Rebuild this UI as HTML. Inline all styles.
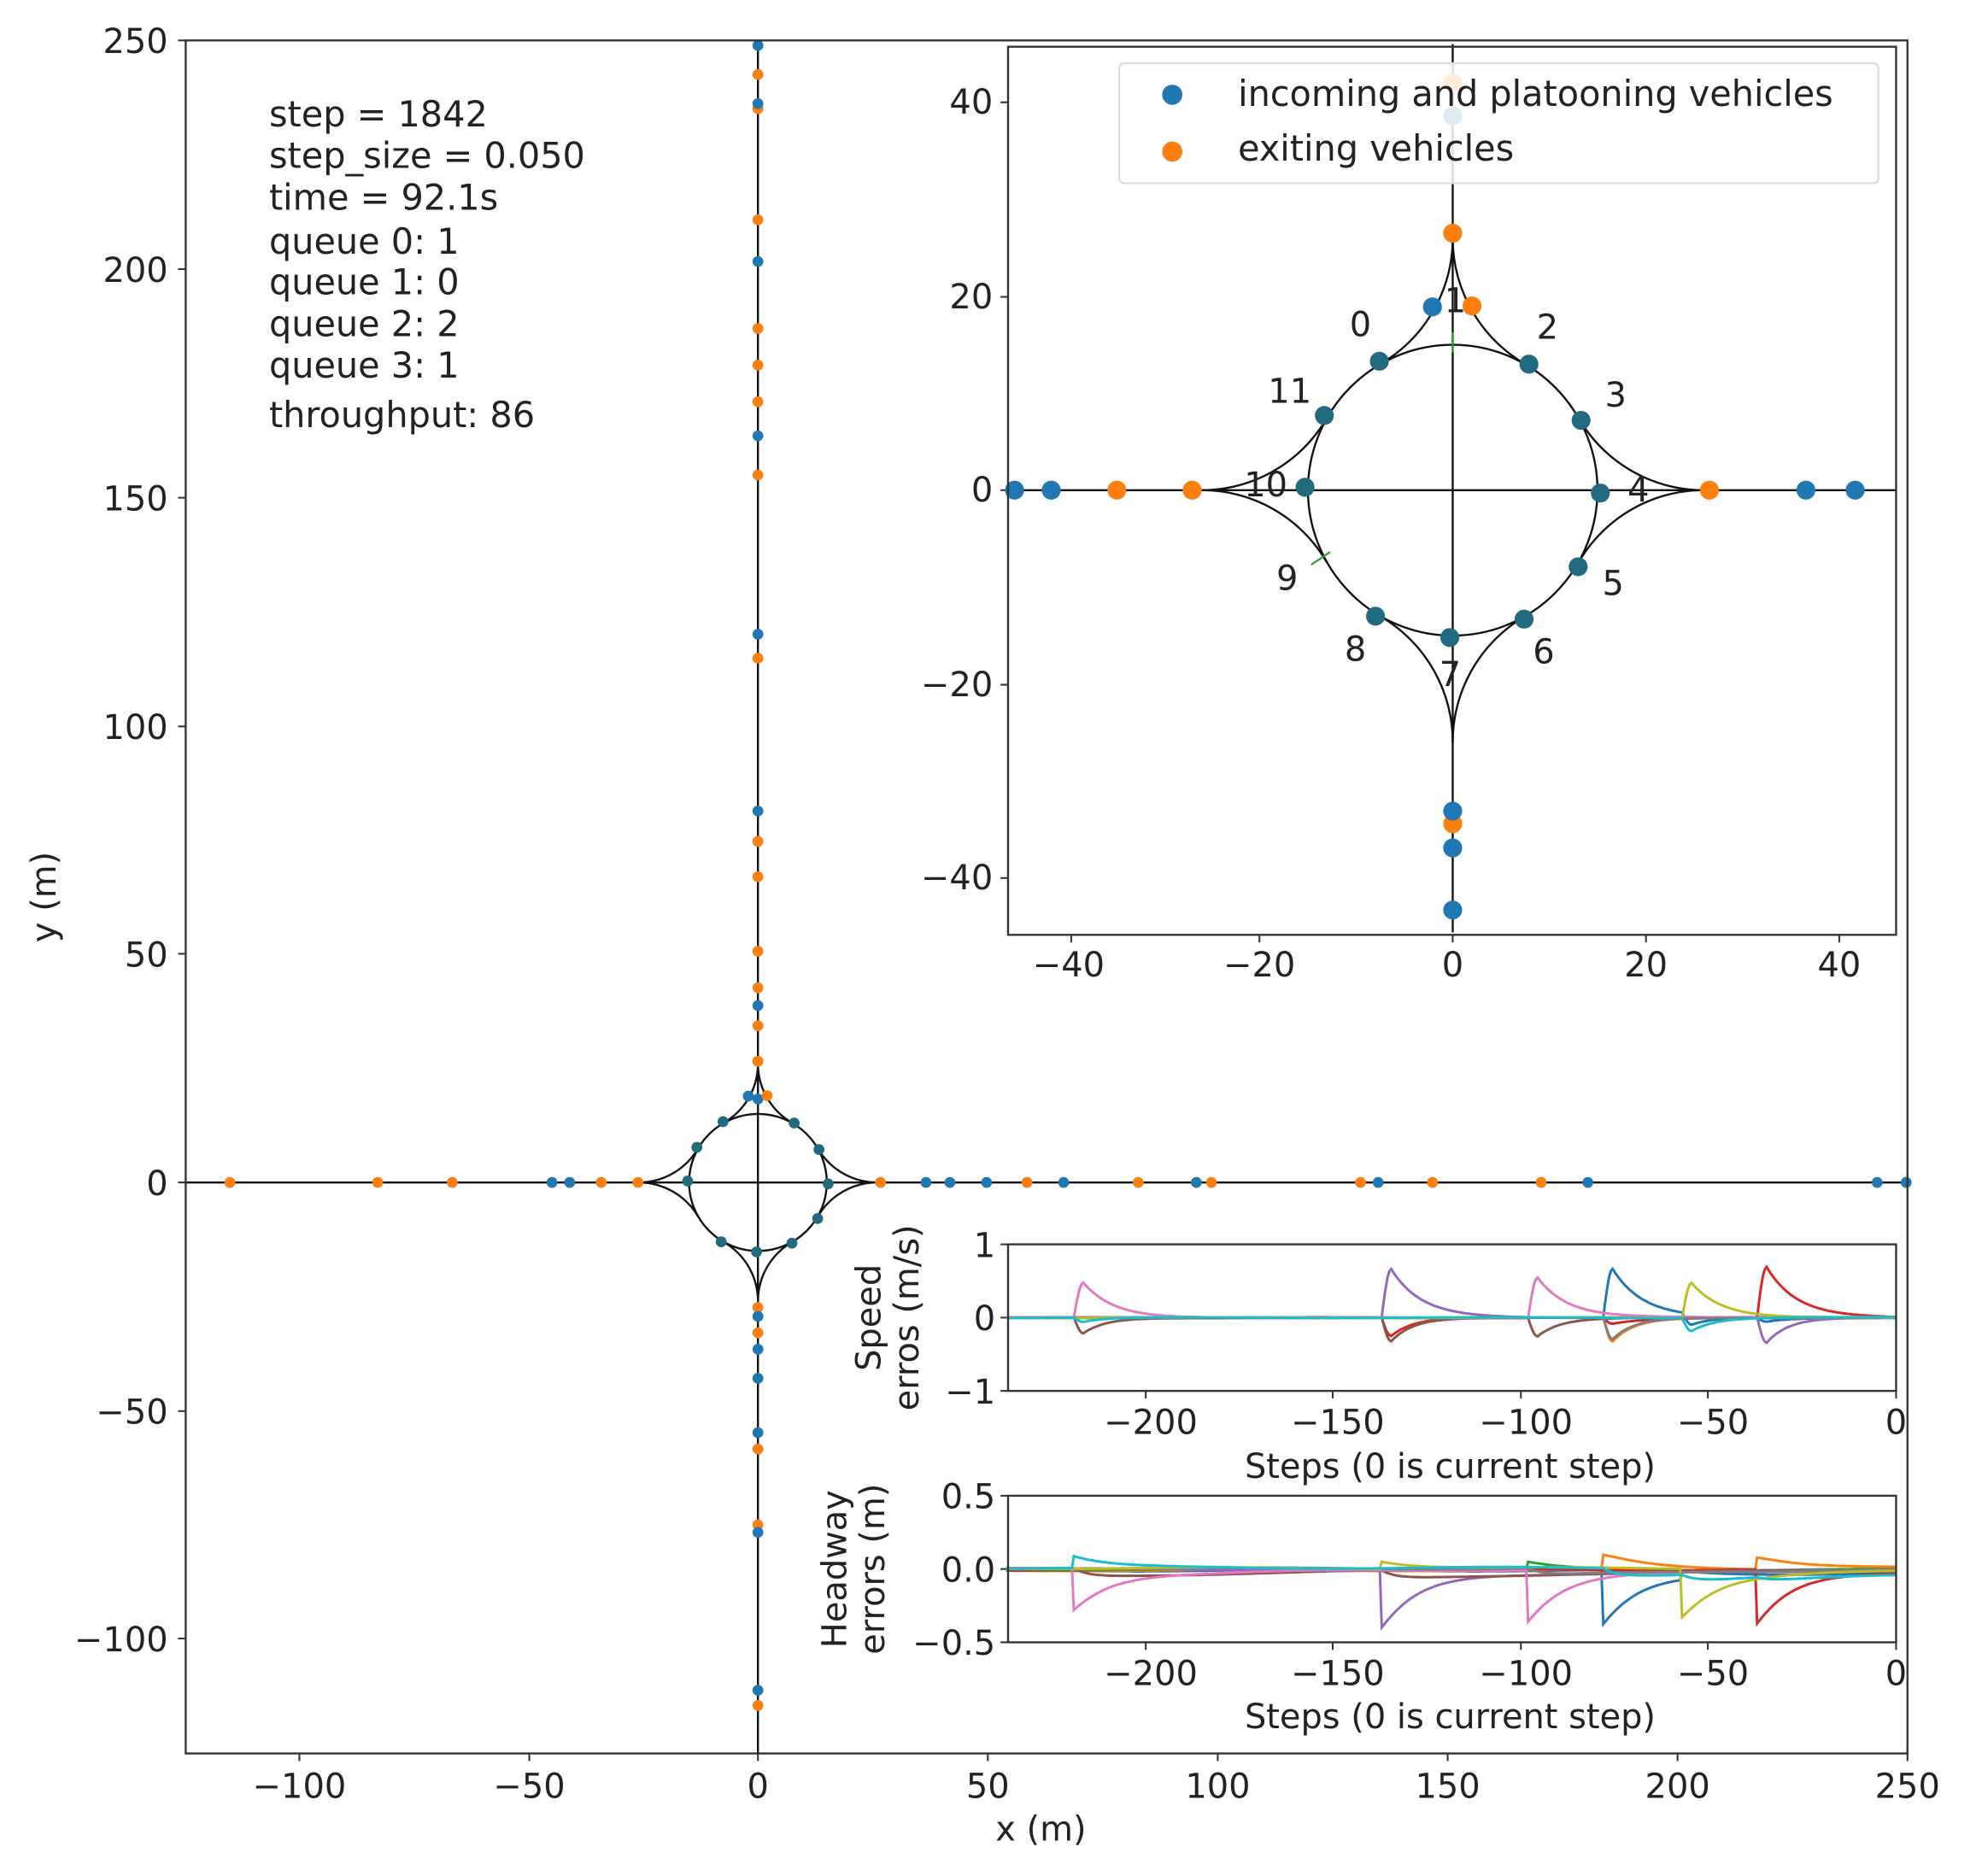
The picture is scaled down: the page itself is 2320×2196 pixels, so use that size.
<!DOCTYPE html>
<html><head><meta charset="utf-8"><style>
html,body{margin:0;padding:0;background:#fff}
svg{display:block}
text{font-family:"DejaVu Sans","Liberation Sans",sans-serif;fill:#222}
</style></head><body>
<svg id="s" width="2320" height="2196" viewBox="0 0 1569 1485" preserveAspectRatio="none" xmlns="http://www.w3.org/2000/svg">
<rect width="1569" height="1485" fill="#fff"/>
<g id="main"></g>
<rect x="147" y="32" width="1363" height="1356" fill="none" stroke="#333" stroke-width="1.6"/>
<g id="ticks" stroke="#333" stroke-width="1.4"></g>
<g font-size="27" text-anchor="end">
<text x="133" y="42">250</text><text x="133" y="223">200</text><text x="133" y="404">150</text>
<text x="133" y="585">100</text><text x="133" y="765">50</text><text x="133" y="946">0</text>
<text x="133" y="1127">−50</text><text x="133" y="1307">−100</text>
</g>
<g font-size="27" text-anchor="middle">
<text x="237" y="1423">−100</text><text x="419" y="1423">−50</text><text x="600" y="1423">0</text>
<text x="782" y="1423">50</text><text x="964" y="1423">100</text><text x="1146" y="1423">150</text>
<text x="1328" y="1423">200</text><text x="1510" y="1423">250</text>
<text x="824" y="1457">x (m)</text>
<text transform="translate(44,710) rotate(-90)">y (m)</text>
</g>
<g font-size="28">
<text x="213" y="100">step = 1842</text>
<text x="213" y="133">step_size = 0.050</text>
<text x="213" y="166">time = 92.1s</text>
<text x="213" y="201">queue 0: 1</text>
<text x="213" y="233">queue 1: 0</text>
<text x="213" y="266">queue 2: 2</text>
<text x="213" y="299">queue 3: 1</text>
<text x="213" y="338">throughput: 86</text>
</g>
<rect x="798" y="37" width="703" height="703" fill="#fff"/>
<g id="inset"></g>
<rect x="798" y="37" width="703" height="703" fill="none" stroke="#333" stroke-width="1.6"/>
<g font-size="27" text-anchor="end">
<text x="786" y="90">40</text><text x="786" y="244">20</text><text x="786" y="397">0</text>
<text x="786" y="551">−20</text><text x="786" y="704">−40</text>
</g>
<g font-size="27" text-anchor="middle">
<text x="846" y="773">−40</text><text x="997" y="773">−20</text><text x="1150" y="773">0</text>
<text x="1303" y="773">20</text><text x="1456" y="773">40</text>
</g>
<g font-size="27" text-anchor="middle">
<text x="1077" y="266">0</text><text x="1152" y="247">1</text><text x="1225" y="268">2</text>
<text x="1279" y="322">3</text><text x="1297" y="397">4</text><text x="1277" y="471">5</text>
<text x="1222" y="525">6</text><text x="1148" y="543">7</text><text x="1073" y="523">8</text>
<text x="1019" y="467">9</text><text x="1002" y="393">10</text><text x="1021" y="319">11</text>
</g>
<rect x="886" y="50" width="601" height="95" rx="4" fill="#fff" fill-opacity="0.85" stroke="#ddd" stroke-width="1.5"/>
<circle cx="928" cy="75" r="8" fill="#1f77b4"/><circle cx="928" cy="120" r="8" fill="#ff7f0e"/>
<g font-size="28"><text x="980" y="84">incoming and platooning vehicles</text><text x="980" y="127">exiting vehicles</text></g>
<rect x="798" y="985" width="703" height="116" fill="#fff"/>
<g id="sp"></g>
<rect x="798" y="985" width="703" height="116" fill="none" stroke="#333" stroke-width="1.6"/>
<g font-size="27" text-anchor="end"><text x="788" y="995">1</text><text x="788" y="1053">0</text><text x="788" y="1111">−1</text></g>
<g font-size="27" text-anchor="middle">
<text x="911" y="1135">−200</text><text x="1059" y="1135">−150</text><text x="1208" y="1135">−100</text>
<text x="1356" y="1135">−50</text><text x="1501" y="1135">0</text>
<text x="1148" y="1170">Steps (0 is current step)</text>
<text transform="translate(697,1043) rotate(-90)">Speed</text>
<text transform="translate(727,1043) rotate(-90)">erros (m/s)</text>
</g>
<rect x="798" y="1184" width="703" height="116" fill="#fff"/>
<g id="hw"></g>
<rect x="798" y="1184" width="703" height="116" fill="none" stroke="#333" stroke-width="1.6"/>
<g font-size="27" text-anchor="end"><text x="788" y="1194">0.5</text><text x="788" y="1252">0.0</text><text x="788" y="1310">−0.5</text></g>
<g font-size="27" text-anchor="middle">
<text x="911" y="1334">−200</text><text x="1059" y="1334">−150</text><text x="1208" y="1334">−100</text>
<text x="1356" y="1334">−50</text><text x="1501" y="1334">0</text>
<text x="1148" y="1368">Steps (0 is current step)</text>
<text transform="translate(670,1242) rotate(-90)">Headway</text>
<text transform="translate(700,1242) rotate(-90)">errors (m)</text>
</g>
</svg>
<script>
var NS="http://www.w3.org/2000/svg";
function el(p,t,a){var e=document.createElementNS(NS,t);for(var k in a)e.setAttribute(k,a[k]);p.appendChild(e);return e;}
var B="#1f77b4",O="#ff7f0e",T="#226a80";
// ticks
var tg=document.getElementById("ticks");
function tk(x1,y1,x2,y2){el(tg,"line",{x1:x1,y1:y1,x2:x2,y2:y2});}
[32,213,394,575,755,936,1117,1297].forEach(function(y){tk(141,y,147,y)});
[237,419,600,782,964,1146,1328,1510].forEach(function(x){tk(x,1388,x,1394)});
[81,235,388,542,695].forEach(function(y){tk(792,y,798,y)});
[848,997,1150,1303,1456].forEach(function(x){tk(x,740,x,746)});
[985,1043,1101].forEach(function(y){tk(792,y,798,y)});
[1184,1242,1300].forEach(function(y){tk(792,y,798,y)});
[907,1055,1204,1352,1501].forEach(function(x){tk(x,1101,x,1107);tk(x,1300,x,1306)});
function arc(g,X,Y,cu,cv,r,a0,a1,sw){
  var d="";for(var i=0;i<=40;i++){var an=a0+(a1-a0)*i/40;d+=(i?"L":"M")+X(cu+r*Math.cos(an)).toFixed(2)+","+Y(cv+r*Math.sin(an)).toFixed(2);}
  el(g,"path",{d:d,fill:"none",stroke:"#111","stroke-width":sw});
}
function junction(g,cx,cy,sx,sy,x0,x1,y0,y1,sw){
  function X(u){return cx+u*sx} function Y(v){return cy-v*sy}
  el(g,"line",{x1:X(x0),y1:cy,x2:X(x1),y2:cy,stroke:"#111","stroke-width":sw});
  el(g,"line",{x1:cx,y1:Y(y1),x2:cx,y2:Y(y0),stroke:"#111","stroke-width":sw});
  el(g,"ellipse",{cx:cx,cy:cy,rx:15*sx,ry:15*sy,fill:"none",stroke:"#111","stroke-width":sw});
  var c=26,r=15,ix=7.5,iy=13;
  [[1,1],[1,-1],[-1,1],[-1,-1]].forEach(function(q){
    var a=q[0],b=q[1];
    var s1=Math.atan2(0,-a), e1=Math.atan2(b*(iy-c),a*(ix-r));
    var dd=e1-s1; while(dd>Math.PI)dd-=2*Math.PI; while(dd<-Math.PI)dd+=2*Math.PI;
    arc(g,X,Y,a*r,b*c,r,s1,s1+dd,sw);
    var s2=Math.atan2(-b,0), e2=Math.atan2(b*(ix-r),a*(iy-c));
    dd=e2-s2; while(dd>Math.PI)dd-=2*Math.PI; while(dd<-Math.PI)dd+=2*Math.PI;
    arc(g,X,Y,a*c,b*r,r,s2,s2+dd,sw);
  });
  return [X,Y];
}
var gi=document.getElementById("inset");
var f=junction(gi,1150,388,7.64,7.675,-46.3,46,-45.6,46,1.6),X=f[0],Y=f[1];
el(gi,"line",{x1:1150,y1:263,x2:1150,y2:279,stroke:"#2ca02c","stroke-width":1.5});
el(gi,"line",{x1:1038,y1:447,x2:1053,y2:437,stroke:"#2ca02c","stroke-width":1.5});
var ob=[[-34.8,0],[-27,0],[26.6,0],[0,42],[0,26.5],[2,19],[0,-34.4]];
var bb=[[-45.4,0],[-41.6,0],[36.6,0],[41.7,0],[0,38.6],[-2.1,18.9],[0,-33.1],[0,-36.9],[0,-43.3]];
var cb=[[-7.6,13.3],[7.9,13.0],[13.3,7.2],[-13.3,7.7],[-15.3,0.3],[15.3,-0.3],[13,-7.9],[-8,-13],[-0.3,-15.2],[7.4,-13.3]];
ob.forEach(function(p){el(gi,"circle",{cx:X(p[0]),cy:Y(p[1]),r:7.5,fill:O})});
bb.forEach(function(p){el(gi,"circle",{cx:X(p[0]),cy:Y(p[1]),r:7.5,fill:B})});
cb.forEach(function(p){el(gi,"circle",{cx:X(p[0]),cy:Y(p[1]),r:7.5,fill:T})});
var gm=document.getElementById("main");
var m=junction(gm,600,936,3.635,3.616,-125,250,-125,250,1.6),MX=m[0],MY=m[1];
var vo=[59,86,174,260,289,318,376,521,666,694,753,782,812,840,1035,1055,1147,1207,1350];
var vb=[36,82,207,345,502,642,796,870,1042,1068,1091,1134,1213,1338];
var ho=[182,299,358,476,505,697,813,901,959,1077,1134,1220];
var hb=[437,451,733,752,781,842,947,1091,1257,1486,1509];
vo.forEach(function(y){el(gm,"circle",{cx:600,cy:y,r:4.3,fill:O})});
vb.forEach(function(y){el(gm,"circle",{cx:600,cy:y,r:4.3,fill:B})});
ho.forEach(function(x){el(gm,"circle",{cx:x,cy:936,r:4.3,fill:O})});
hb.forEach(function(x){el(gm,"circle",{cx:x,cy:936,r:4.3,fill:B})});
[[0,26.5],[2,19]].forEach(function(p){el(gm,"circle",{cx:MX(p[0]),cy:MY(p[1]),r:4.3,fill:O})});
[[-2.1,18.9]].forEach(function(p){el(gm,"circle",{cx:MX(p[0]),cy:MY(p[1]),r:4.3,fill:B})});
cb.forEach(function(p){el(gm,"circle",{cx:MX(p[0]),cy:MY(p[1]),r:4.3,fill:T})});
var C={blue:"#1f77b4",orange:"#ff7f0e",green:"#2ca02c",red:"#d62728",purple:"#9467bd",brown:"#8c564b",pink:"#e377c2",gray:"#7f7f7f",olive:"#bcbd22",cyan:"#17becf"};
function plot(id,y0,scale,evs,kind){
  var g=document.getElementById(id);
  Object.keys(C).forEach(function(k,ci){
    var d="";
    for(var t=-237;t<=0;t+=0.5){
      var v=0.006*Math.sin(t*0.07+ci)+(kind=="h"?0.004*(ci-5)*0.5:0);
      evs.forEach(function(e){ if(e[1]!=k)return; var s=t-e[0]; if(s<0)return;
        if(kind=="s"){ v+= e[2]*(s<2.5? Math.sin(s/2.5*Math.PI/2) : Math.exp(-(s-2.5)/e[3])); }
        else { v+= e[2]*Math.exp(-s/e[3]) + (e[4]||0)*(1-Math.exp(-s/4))*Math.exp(-s/60); }
      });
      var x=1501+t*(148.6/50), y=y0-v*scale;
      d+=(d?"L":"M")+x.toFixed(1)+","+y.toFixed(1);
    }
    el(g,"path",{d:d,fill:"none",stroke:C[k],"stroke-width":2});
  });
}
plot("sp",1043,58,[
 [-219,"pink",0.48,8],[-219,"brown",-0.22,6],[-219,"cyan",-0.06,6],
 [-137,"purple",0.66,8],[-137,"brown",-0.33,6],[-137,"red",-0.25,6],
 [-98,"pink",0.55,8],[-98,"brown",-0.25,6],
 [-78,"blue",0.66,8],[-78,"orange",-0.33,6],[-78,"gray",-0.3,6],[-78,"red",-0.08,8],
 [-57,"olive",0.48,8],[-57,"cyan",-0.18,6],[-57,"blue",-0.15,6],
 [-37,"red",0.69,8],[-37,"purple",-0.35,6],[-37,"blue",-0.05,6]
],"s");
plot("hw",1242,116,[
 [-219,"pink",-0.28,8,-0.05],[-219,"cyan",0.08,10,0],[-219,"brown",0,0.1,-0.06],
 [-137,"purple",-0.4,8,-0.07],[-137,"olive",0.05,10,0],[-137,"brown",0,0.1,-0.06],
 [-98,"pink",-0.35,8,-0.05],[-98,"gray",0,0.1,-0.05],[-98,"green",0.05,10,0],
 [-78,"blue",-0.37,8,-0.06],[-78,"orange",0.1,10,0.02],[-78,"cyan",0,0.1,-0.06],
 [-57,"olive",-0.33,8,-0.06],[-57,"cyan",0,0.1,-0.05],[-57,"blue",0.06,10,0],
 [-37,"red",-0.37,8,-0.05],[-37,"orange",0.08,10,0.02],[-37,"cyan",0,0.1,-0.03]
],"h");
</script>
</body></html>
